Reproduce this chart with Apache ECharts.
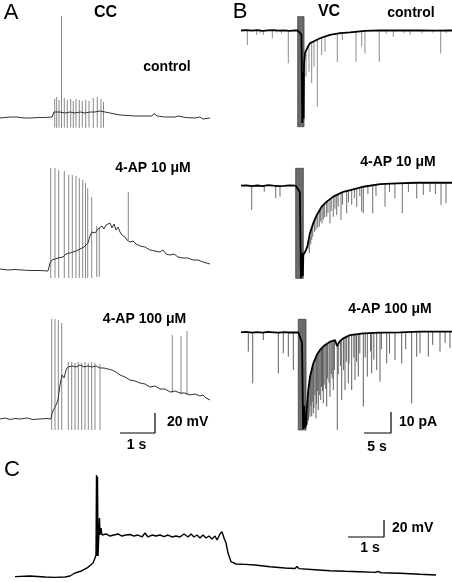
<!DOCTYPE html>
<html><head><meta charset="utf-8">
<script src="https://cdn.jsdelivr.net/npm/echarts@6/dist/echarts.min.js"></script>
<style>html,body{margin:0;padding:0;background:#fff}#c{width:452px;height:582px}</style>
</head><body><div id="c"></div><script>
// ---------- Panel A (current clamp): time in s, membrane potential in mV ----------
const a1Trace = [[0,-60],[0.14,-59.5],[0.29,-59],[0.49,-59],[0.69,-60],[0.86,-60],[1.09,-59.5],[1.29,-59.5],[1.49,-59],[1.54,-54],[1.71,-54],[1.86,-55],[2.0,-54],[2.14,-55],[2.29,-54],[2.43,-55],[2.57,-54],[2.71,-54],[2.86,-53],[3.0,-54],[3.14,-55],[3.29,-56],[3.43,-57],[3.66,-57.5],[3.86,-58],[4.14,-58],[4.34,-58],[4.4,-55.5],[4.49,-58],[4.71,-59],[5.0,-59],[5.09,-58],[5.29,-59.5],[5.57,-60],[5.71,-59],[5.8,-61],[6.0,-60]];
const a1Spikes = [[1.563,-41,-69.5],[1.620,-39,-70],[1.686,-42,-69.5],[1.757,42,-70],[1.837,-40,-69.5],[1.923,-42,-70],[2.020,-41,-69.5],[2.094,-43,-70],[2.171,-41,-69.5],[2.266,-42,-70],[2.351,-43,-69.5],[2.449,-42,-70],[2.543,-43,-69.5],[2.666,-40,-70],[2.780,-39,-69.5],[2.886,-41,-70],[2.957,-44,-69.5]];

const a2Trace = [[0,-59],[0.229,-60],[0.429,-59.5],[0.629,-60],[0.857,-60.5],[1.143,-60.5],[1.371,-61],[1.429,-53],[1.486,-50],[1.543,-52],[1.657,-48],[1.714,-47],[1.8,-47],[1.886,-44],[1.943,-46],[2.0,-43],[2.086,-42],[2.171,-41],[2.286,-39],[2.4,-37],[2.514,-33],[2.571,-26],[2.629,-22],[2.714,-23],[2.8,-19],[2.857,-18],[2.914,-16],[2.971,-19],[3.029,-15],[3.086,-17],[3.143,-13],[3.2,-18],[3.257,-14],[3.314,-20],[3.371,-17],[3.429,-22],[3.486,-25],[3.571,-27],[3.629,-30],[3.714,-32],[3.8,-31],[3.886,-34],[4.0,-36],[4.143,-37],[4.286,-40],[4.429,-41],[4.571,-42],[4.657,-40],[4.743,-44],[4.857,-45],[4.971,-44],[5.086,-47],[5.229,-48],[5.371,-48],[5.514,-50],[5.657,-50],[5.8,-52],[6.0,-54]];
const a2Spikes = [[1.449,42,-68],[1.571,42,-68],[1.677,40,-68],[1.837,39,-68],[1.963,35,-68],[2.066,35,-68],[2.171,34,-68],[2.266,32,-68],[2.363,30,-68],[2.443,27,-68],[2.506,22,-68],[2.620,13,-68],[2.763,-16,-67],[2.837,-18,-67],[3.666,18,-30]];

const a3Trace = [[0,-60],[0.143,-59],[0.286,-60.5],[0.429,-59.5],[0.571,-60],[0.771,-59],[0.943,-60.5],[1.143,-60],[1.343,-59.5],[1.457,-60],[1.486,-54],[1.543,-53],[1.6,-46],[1.657,-41],[1.714,-26],[1.771,-16],[1.829,-19],[1.886,-11],[1.943,-8],[2.057,-7],[2.171,-8],[2.286,-6],[2.4,-8],[2.514,-7],[2.629,-8],[2.743,-7],[2.857,-9],[2.971,-9],[3.086,-10],[3.2,-11],[3.314,-13],[3.429,-16],[3.571,-18],[3.714,-21],[3.857,-22],[4.0,-24],[4.143,-25],[4.286,-28],[4.429,-27],[4.571,-30],[4.714,-30],[4.857,-33],[5.0,-32],[5.143,-34],[5.286,-34],[5.429,-36],[5.571,-35],[5.714,-37],[5.8,-36],[5.886,-39],[6.0,-41]];
const a3Spikes = [[1.477,40,-71],[1.571,40,-71],[1.666,39,-71],[1.763,36,-71],[1.951,-3,-71],[2.049,-3,-71],[2.143,-4,-71],[2.237,-3,-71],[2.334,-4,-71],[2.429,-3,-71],[2.523,-4,-71],[2.620,-3,-71],[2.714,-4,-71],[2.857,-5,-71],[4.923,24,-34],[5.171,23,-35],[5.343,28,-36]];
const scaleBarA = [[3.4286,-74],[4.4286,-74],[4.4286,-54]]; // 1 s, 20 mV

// ---------- Panel B (voltage clamp): time in s, current in pA ----------
const b1Trace = [[0,0],[1,0.2],[2,-0.1],[3,0.2],[4,-0.2],[5,0.1],[6,0.2],[7,-0.1],[8,0.1],[9,-0.2],[10,0.1],[10.5,0],[11.2,-2],[11.35,-44],[11.5,-20],[11.6,-42],[11.67,-16.4],[11.85,-10.7],[12.4,-7.7],[12.78,-6.0],[13.7,-4.9],[14.63,-3.7],[16.48,-2.1],[18.33,-1.3],[20.19,-0.9],[22.96,-0.2],[25.74,0.1],[29.44,0],[33.15,0.1],[36,-0.1],[39.07,0]];
const b1Events = [[1.17,0,-6.9],[2.91,0,-2.1],[3.5,0,-1.2],[4.13,0,-2.1],[5.8,0,-3.7],[6.5,0,-1.0],[7.5,0,-1.4],[8.76,0,-15.6],[12.04,-9,-22],[12.59,-7.5,-19.6],[13.09,-5.5,-25.1],[13.52,-5,-17.2],[14.13,-4.3,-36.3],[14.94,-3.6,-11.7],[15.56,-3,-10.1],[17.83,-1.6,-14.9],[18.76,-1.2,-4.5],[21.3,-0.5,-14.9],[22.35,-0.3,-7.7],[22.96,-0.2,-10.9],[25.61,0,-14.9],[26.9,0,-1.5],[28.2,0,-3],[30.2,0,-1.2],[31.3,0,-2.1],[33.5,0,-1.3],[35.5,0,-1.0],[36.98,0,-10.9],[38,0,-1.2]];
const b1Artifact = [[10.5,11.67,6.57,-45.8]];

const b2Trace = [[0,0],[1,0.2],[2,-0.2],[3,0.1],[4,-0.2],[5,0.3],[6,0],[7,-0.2],[8,-0.1],[9,0.2],[10.13,0],[10.9,-3],[11.1,-44],[11.3,-32],[11.45,-43],[11.54,-33],[11.67,-33.8],[12.04,-30.6],[12.28,-29],[12.78,-22.5],[13.39,-17.8],[14.02,-14],[14.94,-10],[15.87,-7.6],[17.09,-5.2],[18.94,-2.9],[20.8,-1.7],[22.65,-0.5],[25.74,0.7],[28.83,1.1],[32.54,1.4],[36.24,1.4],[39.07,1.4]];
const b2Events = [[1.98,0,-11.6],[4.31,0,-2.9],[6.43,0,-6],[7.22,0,-5.2],[12.4,-28,-30],[12.65,-26,-32.2],[12.9,-24,-28],[13.1,-20,-26],[13.28,-19,-24.3],[13.6,-16,-22],[13.89,-14.5,-21.1],[14.2,-13,-20],[14.5,-12,-19.5],[14.7,-11,-17],[15.0,-10,-18],[15.24,-9.3,-16.3],[15.5,-8.5,-15],[15.87,-7.6,-14.8],[16.1,-7,-13],[16.48,-6.5,-17.9],[16.7,-6,-12],[17.09,-5.2,-14.8],[17.4,-5,-11],[17.72,-4.5,-14],[18.0,-4,-10],[18.52,-3.3,-16.3],[18.8,-3,-9],[19.57,-2.4,-13.1],[19.9,-2.2,-8],[20.5,-1.9,-9],[21.0,-1.6,-6],[21.43,-1.4,-10],[22.0,-1,-5],[22.35,-0.8,-12.4],[22.65,-0.5,-13.1],[23.5,-0.2,-4],[24.39,0.2,-13.1],[25,0.5,-5],[26.67,0.8,-10],[27.5,1,-3],[28.5,1,-6],[29.87,1.1,-13.1],[31,1.2,-3],[32.54,1.4,-6],[33.76,1.4,-4.4],[35,1.4,-3],[36,1.4,-4],[37.04,1.4,-9.2],[37.96,1.4,-8.4]];
const b2Artifact = [[10.13,11.54,8.29,-44.1]];

const b3Trace = [[0,0],[1,0.2],[2,-0.2],[3,0.1],[4,-0.2],[5,0.2],[6,0],[7,-0.2],[8,0.1],[9,-0.1],[10.61,0],[11.3,-5],[11.5,-46],[11.7,-35],[11.85,-45.6],[12.04,-44.1],[12.17,-37],[12.46,-27.5],[12.78,-21.1],[13.39,-14.8],[14.02,-10.8],[14.63,-8.4],[15.56,-6],[16.48,-4.5],[17.41,-3.7],[17.78,-6.5],[18.33,-4.1],[18.94,-2.9],[20.19,-1.3],[22.65,-0.5],[25.74,-0.2],[29.44,0],[33.15,0.3],[39.07,0.3]];
const b3Events = [[1.35,0,-9.2],[2.17,0,-24.3],[4.13,0,-3.7],[6.91,0,-19.5],[7.83,0,-10],[8.76,0,-11.6],[9.69,0,-18],[12.3,-33,-44],[12.5,-27,-42],[12.6,-25,-38],[12.78,-21,-40.2],[12.9,-19,-35],[13.1,-17,-40],[13.2,-16,-33],[13.39,-14.8,-38.6],[13.5,-14,-36],[13.7,-13,-30],[13.89,-12,-41],[14.0,-11,-34],[14.2,-10.5,-28],[14.31,-10,-37],[14.5,-9,-30],[14.76,-8,-32.2],[14.9,-7.8,-26],[15.1,-7.5,-28],[15.24,-7,-33.8],[15.4,-6.5,-25],[15.7,-6,-27],[15.87,-5.5,-35.4],[16.0,-5.2,-22],[16.3,-4.8,-24],[16.48,-4.5,-30.7],[16.7,-4.3,-20],[16.9,-4.1,-22],[17.09,-4,-27.5],[17.3,-3.8,-18],[17.83,-6,-46.5],[18.0,-5,-20],[18.4,-4,-16],[18.65,-3.5,-32.2],[19.0,-2.8,-18],[19.26,-2.5,-27.5],[19.5,-2,-14],[19.87,-1.8,-24.3],[20.0,-1.5,-15],[20.5,-1.2,-27.5],[20.9,-1.1,-12],[21.11,-1,-22.7],[21.4,-0.9,-14],[21.72,-0.8,-21.1],[22.0,-0.6,-10],[22.65,-0.5,-35.4],[23.0,-0.4,-12],[23.39,-0.4,-21.1],[24.0,-0.3,-9],[24.2,-0.3,-19.5],[24.6,-0.2,-13],[25.13,-0.2,-18],[25.74,-0.2,-23.5],[26.0,-0.1,-8],[26.98,-0.1,-14.8],[27.5,0,-10],[28.52,0,-13.2],[29.76,0,-14.8],[30.5,0,-8],[31.61,0.1,-33.8],[32.54,0.2,-11.6],[33.15,0.3,-10],[34.69,0.3,-11.6],[35.5,0.3,-6],[36.85,0.3,-9.2],[37.8,0.3,-5],[38.7,0.3,-7.6]];
const b3Artifact = [[10.61,12.04,6.19,-46.5]];
const scaleBarB = [[22.78,-47.95],[27.78,-47.95],[27.78,-37.95]]; // 5 s, 10 pA

// ---------- Panel C (current clamp): time in s, mV ----------
const cTrace = [[0,-59.6],[0.417,-58.8],[0.833,-60],[1.111,-60.4],[1.389,-60],[1.528,-58.8],[1.667,-55.3],[1.861,-52.6],[2.028,-48.6],[2.167,-43.5],[2.222,-37.6],[2.25,-34.1],[2.264,60],[2.278,-35.3],[2.292,58],[2.306,-35.3],[2.347,9.4],[2.361,-10.6],[2.389,-2.4],[2.417,-10.6],[2.528,-9.4],[2.639,-11.8],[2.75,-10.6],[2.861,-9.4],[2.972,-11.8],[3.083,-10.6],[3.194,-10],[3.306,-11.8],[3.417,-10.6],[3.528,-12.9],[3.611,-8.2],[3.694,-12.9],[3.806,-10.6],[3.917,-11.8],[4.028,-10.6],[4.139,-12.4],[4.25,-10.6],[4.361,-12.9],[4.472,-11.8],[4.583,-12.9],[4.694,-9.4],[4.806,-12.9],[4.889,-9.4],[4.972,-12.9],[5.056,-10.6],[5.139,-14.1],[5.222,-10.6],[5.306,-14.1],[5.389,-11.8],[5.472,-15.3],[5.556,-11.8],[5.611,-16.5],[5.694,-9.4],[5.75,-6.7],[5.806,-14.1],[5.861,-20],[5.917,-31.8],[6.0,-42],[6.139,-44.7],[6.389,-45.1],[6.667,-45.9],[7.083,-47.9],[7.5,-49.4],[7.778,-50],[7.833,-47.6],[7.889,-50.2],[8.333,-51.4],[8.75,-52.6],[9.167,-53.3],[9.583,-53.8],[10.0,-54.5],[10.083,-53.5],[10.167,-55],[10.694,-55.6],[11.25,-56.8],[11.694,-57.6]];
const scaleBarC = [[9.25,-12.94],[10.25,-12.94],[10.25,7.06]]; // 1 s, 20 mV

// ---------- Labels ----------
const FONT = '"Liberation Sans", Arial, sans-serif';
const panelLabels = [['A',11,13],['B',240,12],['C',12,470]];
const boldLabels = [['CC',105.5,12.5,16,'center'],['VC',329,11.5,16,'center'],
  ['control',167,67,14,'center'],['4-AP 10 \u03bcM',153,168,14,'center'],['4-AP 100 \u03bcM',144.5,319,14,'center'],
  ['control',411,13,14,'center'],['4-AP 10 \u03bcM',398,162,14,'center'],['4-AP 100 \u03bcM',390,309,14,'center'],
  ['20 mV',167,422,14,'left'],['1 s',136.5,445,14,'center'],['10 pA',399,422,14,'left'],['5 s',377,447,14,'center'],
  ['20 mV',392,528,14,'left'],['1 s',370,548,14,'center']];

// ---------- Layout ----------
const grids = [
  {left:0,top:0,width:210,height:140},
  {left:0,top:140,width:210,height:150},
  {left:0,top:290,width:210,height:160},
  {left:241,top:0,width:211,height:140},
  {left:241,top:140,width:211,height:150},
  {left:241,top:290,width:211,height:160},
  {left:15,top:455,width:421,height:127}
];
const xr = [[0,6],[0,6],[0,6],[0,39.074],[0,39.074],[0,39.074],[0,11.694]];
const yr = [[-82,58],[-80,70],[-91,69],[-52.14,14.52],[-49.67,21.76],[-56.05,20.14],[-65.88,83.53]];

function lineS(data,i,color,width,z){
  return {type:'line',xAxisIndex:i,yAxisIndex:i,data,showSymbol:false,symbol:'none',
    lineStyle:{color,width},z,silent:true,animation:false,clip:false};
}
function vlineS(data,i,color,width,z){
  return {type:'custom',coordinateSystem:'cartesian2d',xAxisIndex:i,yAxisIndex:i,data,z,silent:true,animation:false,
    encode:{x:0,y:[1,2]},
    renderItem(p,api){
      const a=api.coord([api.value(0),api.value(1)]);
      const b=api.coord([api.value(0),api.value(2)]);
      return {type:'line',shape:{x1:a[0],y1:a[1],x2:b[0],y2:b[1]},style:{stroke:color,lineWidth:width}};
    }};
}
function rectS(data,i,z){
  return {type:'custom',coordinateSystem:'cartesian2d',xAxisIndex:i,yAxisIndex:i,data,z,silent:true,animation:false,
    encode:{x:[0,1],y:[2,3]},
    renderItem(p,api){
      const a=api.coord([api.value(0),api.value(2)]);
      const b=api.coord([api.value(1),api.value(3)]);
      return {type:'rect',shape:{x:a[0],y:a[1],width:b[0]-a[0],height:b[1]-a[1]},style:{fill:'#6c6c6c',stroke:'#444',lineWidth:0.8}};
    }};
}

const graphic = [];
panelLabels.forEach(([t,x,y])=>graphic.push({type:'text',x,y,silent:true,style:{text:t,font:'22px '+FONT,fill:'#000',textAlign:'center',textVerticalAlign:'middle',verticalAlign:'middle'}}));
boldLabels.forEach(([t,x,y,s,al])=>graphic.push({type:'text',x,y,silent:true,style:{text:t,font:'bold '+s+'px '+FONT,fill:'#000',textAlign:al,textVerticalAlign:'middle',verticalAlign:'middle'}}));

const option = {
  backgroundColor:'#fff',
  animation:false,
  grid:grids.map(g=>Object.assign({containLabel:false},g)),
  xAxis:xr.map((r,i)=>({type:'value',gridIndex:i,min:r[0],max:r[1],show:false})),
  yAxis:yr.map((r,i)=>({type:'value',gridIndex:i,min:r[0],max:r[1],show:false})),
  graphic,
  series:[
    vlineS(a1Spikes,0,'#7a7a7a',0.9,2), lineS(a1Trace,0,'#333',1,3),
    vlineS(a2Spikes,1,'#7a7a7a',0.9,2), lineS(a2Trace,1,'#333',1,3),
    vlineS(a3Spikes,2,'#7a7a7a',0.9,2), lineS(a3Trace,2,'#333',1,3),
    lineS(scaleBarA,2,'#000',1.2,4),
    rectS(b1Artifact,3,1), vlineS(b1Events,3,'#8c8c8c',1,2), lineS(b1Trace,3,'#000',1.8,3),
    rectS(b2Artifact,4,1), vlineS(b2Events,4,'#6e6e6e',1,2), lineS(b2Trace,4,'#000',1.8,3),
    rectS(b3Artifact,5,1), vlineS(b3Events,5,'#5e5e5e',1,2), lineS(b3Trace,5,'#000',1.8,3),
    lineS(scaleBarB,5,'#000',1.2,4),
    lineS(cTrace,6,'#000',1.4,3),
    lineS(scaleBarC,6,'#000',1.2,4)
  ]
};
const chart = echarts.init(document.getElementById('c'),null,{renderer:'canvas'});
chart.setOption(option);
</script></body></html>
